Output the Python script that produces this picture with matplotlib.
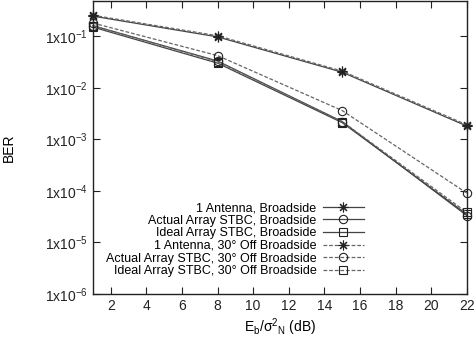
import matplotlib
matplotlib.use("Agg")
import matplotlib.pyplot as plt

plt.rcParams['font.family'] = ['Liberation Sans', 'DejaVu Sans']
plt.rcParams['mathtext.fontset'] = 'custom'
plt.rcParams['mathtext.rm'] = 'Liberation Sans'
plt.rcParams['mathtext.it'] = 'Liberation Sans'
plt.rcParams['mathtext.default'] = 'regular'

snr_db = [1, 8, 15, 22]
ant1_broad = [0.245, 0.097, 0.020, 0.0018]
actual_broad = [0.16, 0.033, 0.0022, 3.3e-5]
ideal_broad = [0.15, 0.030, 0.0021, 3.5e-5]
ant1_off = [0.255, 0.102, 0.021, 0.0019]
actual_off = [0.18, 0.042, 0.0036, 9.0e-5]
ideal_off = [0.16, 0.032, 0.0022, 3.8e-5]

labels = ["1 Antenna, Broadside", "Actual Array STBC, Broadside",
          "Ideal Array STBC, Broadside",
          "1 Antenna, 30\u00b0 Off Broadside",
          "Actual Array STBC, 30\u00b0 Off Broadside",
          "Ideal Array STBC, 30\u00b0 Off Broadside"]
yticks = [1e-6, 1e-5, 1e-4, 1e-3, 1e-2, 1e-1]
ytick_labels = [r"1x10$^{-6}$", r"1x10$^{-5}$", r"1x10$^{-4}$",
                r"1x10$^{-3}$", r"1x10$^{-2}$", r"1x10$^{-1}$"]
xticks = [2, 4, 6, 8, 10, 12, 14, 16, 18, 20, 22]

fig = plt.figure(figsize=(4.74, 3.61), dpi=100)
ax = fig.add_axes([0.196, 0.186, 0.789, 0.811])

star = (8, 2, 0)
solid_c = '#444444'
dash_c = '#666666'
series = [
    (ant1_broad, star, '-', solid_c, 7),
    (actual_broad, 'o', '-', solid_c, 6),
    (ideal_broad, 's', '-', solid_c, 6),
    (ant1_off, star, (0, (3, 1.5)), dash_c, 7),
    (actual_off, 'o', (0, (3, 1.5)), dash_c, 6),
    (ideal_off, 's', (0, (3, 1.5)), dash_c, 6),
]
for (vals, mk, ls, c, ms), lab in zip(series, labels):
    ax.plot(snr_db, vals, linestyle=ls, color=c, lw=0.9, marker=mk,
            markersize=ms, markerfacecolor='none', markeredgecolor='#222222',
            markeredgewidth=0.8, label=lab, clip_on=False)

ax.set_yscale('log')
ax.set_xlim(1, 22)
ax.set_ylim(1e-6, 0.48)
ax.set_yticks(yticks)
ax.set_yticklabels(ytick_labels)
ax.yaxis.set_minor_locator(matplotlib.ticker.NullLocator())
ax.set_xticks(xticks)
ax.tick_params(direction='in', top=True, right=True, labelsize=10,
               length=5, width=0.8, colors='#222222')
for s in ax.spines.values():
    s.set_linewidth(1.0)
    s.set_color('#222222')

ax.set_xlabel(r"E$_b$/$\sigma^2{}_N$ (dB)", fontsize=10, labelpad=3)
ax.set_ylabel("BER", fontsize=10)
ax.yaxis.set_label_coords(-0.205, 0.5)

leg = ax.legend(loc='lower right', bbox_to_anchor=(0.725, 0.057), frameon=False,
                markerfirst=False, fontsize=9, handlelength=3.3,
                handletextpad=0.5, labelspacing=0.05, borderpad=0,
                borderaxespad=0)

fig.savefig("out.png", dpi=100)
